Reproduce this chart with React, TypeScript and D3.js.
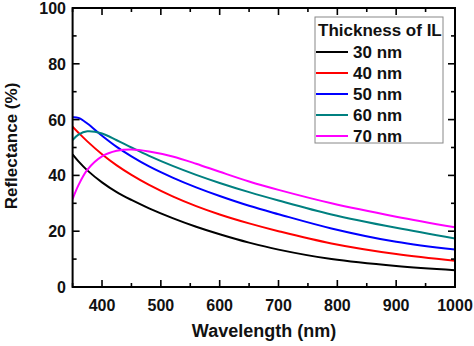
import React from "react";
import * as d3 from "d3";

const wavelengths = [350, 360, 375, 400, 425, 450, 480, 520, 560, 600, 650, 700, 790, 900, 1000];
const r30 = [47.5, 45, 41.8, 37.5, 34, 31.2, 28.2, 24.7, 21.6, 18.9, 15.9, 13.4, 10, 7.5, 6];
const r40 = [57.5, 55.3, 52.2, 47.6, 43.6, 40.2, 36.6, 32.5, 29, 26, 22.8, 20, 15.6, 11.8, 9.4];
const r50 = [60.8, 60.6, 58.6, 54.2, 50.2, 46.8, 43.2, 39.2, 35.7, 32.6, 29.1, 26.1, 21, 16.2, 13.4];
const r60 = [52.7, 54.6, 55.8, 55, 52.6, 50, 47, 43.4, 40.2, 37.3, 34, 31, 26, 21.2, 17.4];
const r70 = [31.5, 36.5, 42, 46.8, 48.8, 49.3, 48.6, 46.8, 44.2, 41.3, 37.8, 34.8, 30, 25.2, 21.4];

const seriesNames = ["30 nm", "40 nm", "50 nm", "60 nm", "70 nm"];
const seriesValues = [r30, r40, r50, r60, r70];
const seriesColors = ["#000000", "#ff0000", "#0000ff", "#008080", "#ff00ff"];

const xTicks = [400, 500, 600, 700, 800, 900, 1000];
const xMinor = [350, 450, 550, 650, 750, 850, 950];
const yTicks = [0, 20, 40, 60, 80, 100];
const yMinor = [10, 30, 50, 70, 90];

const W = 474, H = 346;
const L = 72.6, R = 455, T = 8, B = 287;
const FONT = "Liberation Sans, Arial, sans-serif";

export default function App() {
  const x = d3.scaleLinear().domain([350, 1000]).range([L, R]);
  const y = d3.scaleLinear().domain([0, 100]).range([B, T]);
  const line = d3
    .line<number>()
    .x((_, i) => x(wavelengths[i]))
    .y((d) => y(d))
    .curve(d3.curveCatmullRom.alpha(0.5));

  const major = 7, minor = 4;

  return (
    <div style={{ position: "absolute", left: 0, top: 0 }}>
      <svg width={W} height={H} style={{ display: "block", background: "#fff" }}>
        <defs>
          <clipPath id="plot">
            <rect x={L} y={T} width={R - L} height={B - T} />
          </clipPath>
        </defs>
        <g clipPath="url(#plot)">
          {seriesValues.map((vals, i) => (
            <path key={i} d={line(vals) || ""} fill="none" stroke={seriesColors[i]} strokeWidth={2} />
          ))}
        </g>
        <rect x={L} y={T} width={R - L} height={B - T} fill="none" stroke="#000" strokeWidth={2} />
        {xTicks.map((t) => (
          <g key={"xt" + t}>
            <line x1={x(t)} x2={x(t)} y1={B} y2={B - major} stroke="#000" strokeWidth={1.6} />
            <line x1={x(t)} x2={x(t)} y1={T} y2={T + major} stroke="#000" strokeWidth={1.6} />
            <text x={x(t)} y={311} textAnchor="middle" fontFamily={FONT} fontWeight="bold" fontSize={16} fill="#111">
              {t}
            </text>
          </g>
        ))}
        {xMinor.map((t) => (
          <g key={"xm" + t}>
            <line x1={x(t)} x2={x(t)} y1={B} y2={B - minor} stroke="#000" strokeWidth={1.6} />
            <line x1={x(t)} x2={x(t)} y1={T} y2={T + minor} stroke="#000" strokeWidth={1.6} />
          </g>
        ))}
        {yTicks.map((t) => (
          <g key={"yt" + t}>
            <line x1={L} x2={L + major} y1={y(t)} y2={y(t)} stroke="#000" strokeWidth={1.6} />
            <line x1={R} x2={R - major} y1={y(t)} y2={y(t)} stroke="#000" strokeWidth={1.6} />
            <text x={66} y={y(t) + 6} textAnchor="end" fontFamily={FONT} fontWeight="bold" fontSize={16} fill="#111">
              {t}
            </text>
          </g>
        ))}
        {yMinor.map((t) => (
          <g key={"ym" + t}>
            <line x1={L} x2={L + minor} y1={y(t)} y2={y(t)} stroke="#000" strokeWidth={1.6} />
            <line x1={R} x2={R - minor} y1={y(t)} y2={y(t)} stroke="#000" strokeWidth={1.6} />
          </g>
        ))}
        <text x={264} y={337} textAnchor="middle" fontFamily={FONT} fontWeight="bold" fontSize={18} fill="#111">
          Wavelength (nm)
        </text>
        <text
          transform={`translate(17,146) rotate(-90)`}
          textAnchor="middle"
          fontFamily={FONT}
          fontWeight="bold"
          fontSize={17}
          fill="#111"
        >
          Reflectance (%)
        </text>
        <rect x={315} y={17} width={128} height={126} fill="#fff" stroke="#888" strokeWidth={1} />
        <text x={318} y={36} fontFamily={FONT} fontWeight="bold" fontSize={17} fill="#111">
          Thickness of IL
        </text>
        {seriesNames.map((n, i) => (
          <g key={n}>
            <line x1={316} x2={348} y1={52 + i * 21} y2={52 + i * 21} stroke={seriesColors[i]} strokeWidth={2} />
            <text x={353} y={58 + i * 21} fontFamily={FONT} fontWeight="bold" fontSize={17} fill="#111">
              {n}
            </text>
          </g>
        ))}
      </svg>
    </div>
  );
}
